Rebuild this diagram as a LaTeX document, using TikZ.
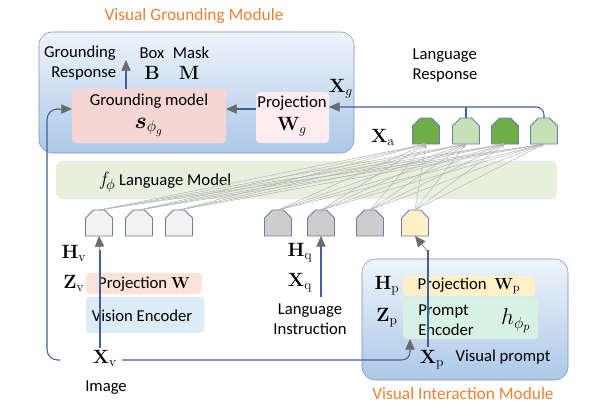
\documentclass[tikz,border=0pt]{standalone}
\usepackage{amsmath}
\usepackage[no-math]{fontspec}
\setmainfont{Carlito}
\usetikzlibrary{arrows.meta}
\definecolor{ln}{HTML}{41609A}
\definecolor{ar}{HTML}{6B6B6B}
\definecolor{org}{HTML}{F07F30}
\definecolor{dg}{HTML}{70AD47}
\definecolor{lg}{HTML}{C5E0B4}
\definecolor{gmc}{HTML}{F6D6D3}
\definecolor{pjc}{HTML}{FCEBEF}
\definecolor{lmc}{HTML}{E6F0DD}
\definecolor{pwc}{HTML}{FBE3D8}
\definecolor{vec}{HTML}{DDEBF7}
\definecolor{ywc}{HTML}{FFF0C8}
\definecolor{pec}{HTML}{D7F2E4}
\definecolor{mtop}{HTML}{EEF4FB}
\definecolor{mbot}{HTML}{ACC8E8}
\begin{document}
\begin{tikzpicture}[x=0.75pt,y=-0.75pt,
  txt/.style={font=\fontsize{12.5}{14}\selectfont,inner sep=0pt},
  mth/.style={font=\fontsize{14}{15}\selectfont,inner sep=0pt},
  ttl/.style={font=\fontsize{13}{15}\selectfont,text=org,inner sep=0pt},
  mod/.style={draw=ln!70,rounded corners=10pt,top color=mtop,bottom color=mbot},
  blk/.style={rounded corners=3pt,draw=none},
  con/.style={ln,line width=0.8pt},
  tip/.style={-{Triangle[length=8pt,width=7pt,fill=ar]},ar},
  fan/.style={black!30,line width=0.35pt}]
\useasboundingbox (0,0) rectangle (600,418);
\newcommand\tok[4]{%
  \filldraw[fill=#4,draw=ln!80,line width=0.6pt] (#2-13.5,#3+26)--(#2-13.5,#3+8)--(#2-5.5,#3)--(#2+5.5,#3)--(#2+13.5,#3+8)--(#2+13.5,#3+26)--cycle;
  \coordinate (#1-t) at (#2,#3); \coordinate (#1-b) at (#2,#3+26);}
% modules
\draw[mod] (39,32) rectangle (354,153);
\node[ttl] (vgmt) at (194,16) {Visual Grounding Module};
\draw[mod] (362,259) rectangle (568,380);
\node[ttl] (vimt) at (463,394) {Visual Interaction Module};
% language model
\fill[lmc,rounded corners=4pt] (56,161) rectangle (557,199);
\node[txt,anchor=west] (lm) at (100,182) {{\fontsize{15}{16}\selectfont$\mathit{f}_{\phi}$} Language Model};
% grounding
\fill[blk,gmc] (72,89) rectangle (226,143);
\node[txt] (gm) at (149,101) {Grounding model};
\node[mth,font=\fontsize{17}{18}\selectfont] (gs) at (149,127) {$\boldsymbol{s}_{\phi_g}$};
\coordinate (gml) at (72,109); \coordinate (gmt) at (126,89);
\fill[blk,pjc] (256,92) rectangle (329,143);
\node[txt] (pj) at (292,103) {Projection};
\node[mth] (wg) at (292,127) {$\mathbf{W}_g$};
\coordinate (pjl) at (256,109); \coordinate (pjr) at (329,107);
\node[mth] (xg) at (341,89) {$\mathbf{X}_g$};
\node[txt,align=center] (gr) at (80,63) {Grounding\\[1pt]\ \ Response};
\node[txt] (box) at (152,53) {Box};
\node[txt] (mask) at (191,53) {Mask};
\node[mth] (bb) at (152,73) {$\mathbf{B}$};
\node[mth] (mm) at (189,73) {$\mathbf{M}$};
\coordinate (gup) at (126,60);
\draw[con] (gmt)--(126,70); \draw[tip] (126,72)--(gup);
\draw[con] (pjl)--(230,109); \draw[tip] (236,109)--(226,109);
% top tokens
\tok{a1}{426}{118}{dg}\tok{a2}{466}{118}{lg}\tok{a3}{505}{118}{dg}\tok{a4}{544}{118}{lg}
\node[mth] (xa) at (383,137) {$\mathbf{X}_{\mathrm{a}}$};
\node[txt,align=left] (lr) at (445,65) {Language\\[1pt]Response};
\draw[con,rounded corners=6pt] (a4-t)--(544,107)--(335,107);
\draw[con] (a2-t)--(466,107);
\draw[tip] (337,107)--(pjr);
% bottom tokens
\tok{v1}{99}{210}{black!5}\tok{v2}{139}{210}{black!5}\tok{v3}{179}{210}{black!5}
\tok{q1}{278}{210}{black!20}\tok{q2}{321}{210}{black!20}\tok{q3}{370}{210}{black!20}
\tok{p1}{415}{210}{ywc}
\foreach \b in {v1,v2,v3,q1,q2,q3,p1}
  \foreach \t in {a1,a2,a3,a4}
    \draw[fan,-{Stealth[length=3pt,width=2.5pt]}] (\b-t)--(\t-b);
% vision branch
\fill[blk,pwc] (86,273) rectangle (202,294);
\node[txt] (pw) at (144,284) {Projection $\mathbf{W}$};
\fill[blk,vec] (86,297) rectangle (204,333);
\node[txt] (ve) at (142,316) {Vision Encoder};
\node[mth] (hv) at (74,253) {$\mathbf{H}_{\mathrm{v}}$};
\node[mth] (zv) at (74,283) {$\mathbf{Z}_{\mathrm{v}}$};
\node[mth] (xv) at (105,358) {$\mathbf{X}_{\mathrm{v}}$};
\node[txt] (img) at (106,388) {Image};
\draw[con] (100,348)--(100,250);
\draw[tip] (100,255)--(v1-b);
% left feedback
\draw[con,rounded corners=8pt] (60,360)--(47,360)--(47,109)--(60,109);
\draw[tip] (58,109)--(gml);
% language instruction
\node[mth] (hq) at (300,253) {$\mathbf{H}_{\mathrm{q}}$};
\node[mth] (xq) at (300,283) {$\mathbf{X}_{\mathrm{q}}$};
\node[txt,align=center] (li) at (310,319) {Language\\[1pt]Instruction};
\draw[con] (321,297)--(321,245);
\draw[tip] (321,248)--(q2-b);
% visual prompt
\fill[blk,ywc] (403,276) rectangle (535,296);
\node[txt] (pwp) at (469,286) {Projection\ \ $\mathbf{W}_{\mathrm{p}}$};
\fill[blk,pec] (403,298) rectangle (538,339);
\node[txt,align=left] (pe) at (446,320) {Prompt\\[1pt]Encoder};
\node[font=\fontsize{18}{19}\selectfont,inner sep=0pt] (hp) at (516,321) {$h_{\phi_p}$};
\node[mth] (hpl) at (387,286) {$\mathbf{H}_{\mathrm{p}}$};
\node[mth] (zp) at (387,318) {$\mathbf{Z}_{\mathrm{p}}$};
\node[mth] (xp) at (432,360) {$\mathbf{X}_{\mathrm{p}}$};
\node[txt] (vp) at (503,357) {Visual prompt};
\draw[con] (428,347)--(428,250);
\draw[tip] (428,252)--(p1-b);
\draw[con,rounded corners=6pt] (122,360)--(410,360)--(410,350);
\draw[tip] (410,351)--(410,339);
\end{tikzpicture}
\end{document}
